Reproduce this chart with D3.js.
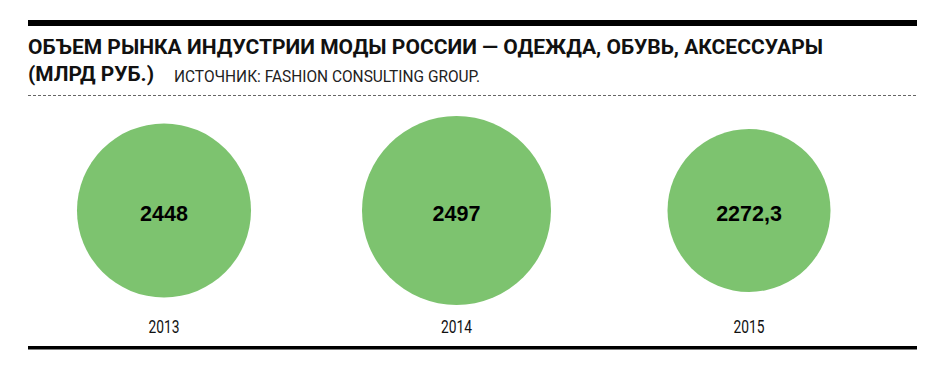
<!DOCTYPE html>
<html>
<head>
<meta charset="utf-8">
<script src="https://cdn.jsdelivr.net/npm/d3@7"></script>
<style>
  body { margin: 0; background: #fff; }
  svg { display: block; }
</style>
</head>
<body>
<div id="chart"></div>
<script>
// data
const years = ['2013', '2014', '2015'];
const values = [2448, 2497, 2272.3];
const valueLabels = ['2448', '2497', '2272,3'];
const titleLines = ['ОБЪЕМ РЫНКА ИНДУСТРИИ МОДЫ РОССИИ — ОДЕЖДА, ОБУВЬ, АКСЕССУАРЫ', '(МЛРД РУБ.)'];
const sourceText = 'ИСТОЧНИК: FASHION CONSULTING GROUP.';

const width = 947, height = 373;
const left = 28, right = 917;

const svg = d3.select('#chart')
  .append('svg')
  .attr('width', width)
  .attr('height', height);

// heavy rule on top
svg.append('rect')
  .attr('x', left).attr('y', 20)
  .attr('width', right - left).attr('height', 6)
  .attr('fill', '#000');

svg.append('text')
  .attr('x', left).attr('y', 54)
  .attr('textLength', 795)
  .attr('lengthAdjust', 'spacingAndGlyphs')
  .style('font-family', 'Roboto')
  .style('font-weight', 700)
  .style('font-size', '21px')
  .attr('fill', '#111')
  .text(titleLines[0]);

svg.append('text')
  .attr('x', left).attr('y', 81)
  .attr('textLength', 126)
  .attr('lengthAdjust', 'spacingAndGlyphs')
  .style('font-family', 'Roboto')
  .style('font-weight', 700)
  .style('font-size', '21px')
  .attr('fill', '#111')
  .text(titleLines[1]);

svg.append('text')
  .attr('x', 174).attr('y', 82)
  .attr('textLength', 306)
  .attr('lengthAdjust', 'spacingAndGlyphs')
  .style('font-family', 'Roboto')
  .style('font-size', '16.5px')
  .attr('fill', '#222')
  .text(sourceText);

// dashed separator
svg.append('line')
  .attr('x1', left).attr('x2', right)
  .attr('y1', 95.5).attr('y2', 95.5)
  .attr('stroke', '#666')
  .attr('stroke-width', 1)
  .attr('stroke-dasharray', '3,2');

const x = d3.scalePoint()
  .domain(years)
  .range([164, 749]);

// the original exaggerates the difference between the years a lot,
// a steep power scale gets close to its radii
const r = d3.scalePow()
  .exponent(42)
  .domain([d3.min(values), d3.max(values)])
  .range([81.5, 94.5]);

const cy = 210.5;

const g = svg.selectAll('g.year')
  .data(years.map((y, i) => ({ year: y, value: values[i], label: valueLabels[i] })))
  .enter()
  .append('g')
  .attr('class', 'year')
  .attr('transform', d => `translate(${x(d.year)},0)`);

g.append('circle')
  .attr('cy', cy)
  .attr('r', d => r(d.value))
  .attr('fill', '#7dc36f');

g.append('text')
  .attr('y', cy + 10.5)
  .attr('text-anchor', 'middle')
  .style('font-family', 'Liberation Sans')
  .style('font-weight', 700)
  .style('font-size', '21.5px')
  .attr('fill', '#000')
  .text(d => d.label);

g.append('text')
  .attr('y', 333)
  .attr('text-anchor', 'middle')
  .attr('textLength', 31)
  .attr('lengthAdjust', 'spacingAndGlyphs')
  .style('font-family', 'Roboto')
  .style('font-size', '18.5px')
  .attr('fill', '#111')
  .text(d => d.year);

// closing rule
svg.append('rect')
  .attr('x', left).attr('y', 346)
  .attr('width', right - left).attr('height', 3.5)
  .attr('fill', '#000');
</script>
</body>
</html>
